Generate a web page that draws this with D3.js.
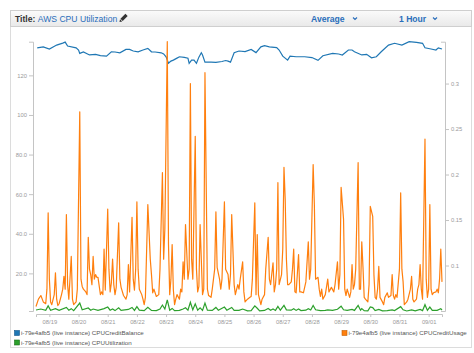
<!DOCTYPE html>
<html>
<head>
<meta charset="utf-8">
<script src="https://cdn.jsdelivr.net/npm/d3@7"></script>
<style>
  body { margin: 0; background: #fff; }
  text { font-family: "Liberation Sans", Arial, sans-serif; }
</style>
</head>
<body>
<svg id="chart" width="474" height="353"></svg>
<script>
// hours are counted from 08/18 12:00
const baseTime = new Date(2015, 7, 18, 12);

// CPUCreditBalance (left axis)
const balance = [[2,133.9],[7,134.4],[12,133.3],[18,135.3],[23,136.3],[25,136.8],[27,134.8],[34,133.9],[36,132.8],[37,131.1],
  [40,131.8],[45,130.3],[50,130.6],[54,130.0],[59,129.7],[63,131.9],[66,131.8],[70,131.4],[75,133.1],[78,133.1],
  [81,132.3],[85,131.9],[89,132.8],[93,133.6],[96,131.9],[99,131.8],[104,131.4],[106,130.8],[108,129.4],[110,126.1],
  [112,127.2],[114,127.7],[117,128.7],[119,129.4],[123,129.1],[126,128.7],[127,126.1],[129,127.7],[131,127.7],[133,126.1],
  [135,129.2],[137,131.4],[138,130.3],[140,126.7],[145,126.7],[149,126.6],[154,127.0],[157,127.5],[159,127.2],[161,126.7],
  [164,131.4],[168,132.3],[173,132.0],[178,133.1],[182,131.5],[186,134.4],[189,135.0],[193,134.4],[199,134.0],[201,132.8],
  [204,129.7],[208,127.7],[210,129.7],[215,129.4],[222,129.4],[228,129.0],[233,127.6],[237,129.9],[245,131.1],[250,130.8],
  [253,130.3],[258,132.8],[261,132.8],[263,131.9],[269,130.3],[273,130.6],[277,128.9],[281,129.4],[285,131.9],[291,135.3],
  [296,136.2],[302,135.3],[308,137.0],[314,136.7],[319,136.2],[321,133.9],[326,133.3],[330,132.8],[332,133.9],[335,133.3]];

// CPUCreditUsage (right axis)
const usage = [[1,0.055],[3,0.063],[5,0.067],[7,0.060],[9,0.058],[10,0.074],[11,0.158],[12,0.085],[13,0.060],[14,0.057],
  [16,0.068],[17,0.092],[18,0.063],[19,0.056],[20,0.058],[22,0.068],[23,0.074],[24,0.088],[25,0.074],[26,0.156],
  [27,0.079],[28,0.063],[30,0.110],[31,0.063],[32,0.057],[34,0.060],[35,0.074],[37,0.269],[38,0.085],[39,0.077],
  [40,0.074],[42,0.071],[43,0.068],[44,0.131],[45,0.096],[46,0.090],[47,0.079],[48,0.110],[49,0.085],[50,0.090],
  [51,0.087],[52,0.087],[54,0.068],[55,0.071],[56,0.068],[57,0.118],[58,0.073],[60,0.162],[61,0.096],[62,0.071],
  [63,0.081],[64,0.107],[65,0.079],[66,0.068],[67,0.076],[69,0.147],[70,0.085],[71,0.076],[73,0.067],[75,0.063],
  [76,0.068],[77,0.101],[78,0.071],[80,0.153],[81,0.085],[82,0.073],[83,0.096],[84,0.170],[85,0.096],[86,0.074],
  [88,0.068],[89,0.063],[90,0.057],[91,0.065],[93,0.167],[95,0.107],[96,0.090],[97,0.070],[98,0.074],[100,0.066],
  [102,0.068],[103,0.096],[105,0.202],[106,0.107],[107,0.140],[109,0.346],[110,0.123],[111,0.068],[112,0.085],[113,0.123],
  [114,0.073],[115,0.057],[116,0.063],[117,0.068],[119,0.063],[120,0.074],[121,0.071],[122,0.104],[123,0.085],[124,0.145],
  [126,0.085],[127,0.096],[128,0.300],[129,0.107],[130,0.085],[132,0.242],[133,0.096],[134,0.071],[135,0.077],[136,0.145],
  [138,0.068],[139,0.074],[140,0.312],[142,0.074],[143,0.067],[145,0.065],[146,0.074],[148,0.096],[149,0.159],[150,0.098],
  [152,0.085],[153,0.074],[154,0.085],[156,0.170],[157,0.096],[159,0.090],[160,0.074],[161,0.090],[162,0.156],[164,0.079],
  [165,0.068],[167,0.079],[168,0.074],[169,0.085],[171,0.104],[172,0.071],[173,0.060],[175,0.063],[177,0.065],[178,0.066],
  [179,0.085],[181,0.169],[182,0.068],[183,0.134],[184,0.068],[186,0.057],[187,0.063],[189,0.068],[190,0.096],[192,0.131],
  [193,0.085],[194,0.079],[196,0.103],[197,0.071],[198,0.079],[199,0.096],[200,0.191],[201,0.079],[203,0.090],[204,0.118],
  [205,0.208],[206,0.173],[207,0.107],[208,0.079],[209,0.079],[211,0.082],[212,0.096],[213,0.118],[214,0.071],[215,0.070],
  [217,0.112],[218,0.071],[219,0.071],[221,0.070],[223,0.082],[225,0.126],[226,0.085],[227,0.096],[229,0.211],[230,0.167],
  [231,0.085],[233,0.087],[234,0.074],[235,0.066],[236,0.074],[237,0.063],[239,0.068],[241,0.085],[242,0.071],[244,0.076],
  [246,0.071],[247,0.079],[249,0.104],[250,0.074],[251,0.090],[252,0.186],[254,0.151],[255,0.074],[256,0.067],[257,0.074],
  [259,0.065],[260,0.071],[261,0.101],[262,0.074],[263,0.079],[264,0.096],[266,0.213],[267,0.074],[268,0.074],[269,0.126],
  [270,0.098],[271,0.065],[272,0.063],[274,0.060],[275,0.079],[276,0.165],[278,0.154],[279,0.090],[280,0.065],[281,0.063],
  [282,0.074],[283,0.099],[284,0.065],[286,0.060],[287,0.057],[288,0.065],[290,0.070],[291,0.065],[293,0.067],[294,0.090],
  [295,0.067],[296,0.063],[297,0.068],[298,0.065],[300,0.096],[301,0.180],[302,0.096],[303,0.082],[304,0.057],[306,0.060],
  [307,0.063],[309,0.074],[310,0.088],[311,0.063],[312,0.060],[314,0.063],[315,0.074],[316,0.079],[317,0.101],[318,0.074],
  [319,0.063],[321,0.239],[322,0.085],[323,0.065],[324,0.074],[325,0.167],[326,0.074],[327,0.068],[328,0.070],[330,0.071],
  [331,0.074],[332,0.070],[333,0.085],[334,0.118],[335,0.082]];

// CPUUtilization (left axis)
const utilization = [[1,1.5],[5,2.0],[9,1.3],[11,3.6],[13,1.4],[17,2.2],[20,1.3],[26,2.8],[28,1.4],[30,2.2],
  [32,1.2],[37,5.0],[39,1.6],[44,2.5],[46,1.4],[48,2.0],[52,1.3],[57,2.2],[60,3.0],[62,1.4],
  [64,2.0],[66,1.2],[69,2.6],[71,1.3],[77,1.8],[80,2.8],[82,1.3],[84,3.2],[86,1.4],[90,1.2],
  [93,2.9],[96,1.3],[100,1.2],[103,2.0],[105,4.0],[107,2.0],[109,6.6],[111,1.4],[113,2.3],[115,1.2],
  [119,1.3],[122,2.0],[124,2.6],[126,1.4],[128,5.4],[130,1.6],[132,4.6],[134,1.4],[136,2.6],[138,1.3],
  [140,5.0],[142,1.4],[146,1.3],[149,2.8],[151,1.4],[156,3.0],[158,1.4],[162,2.8],[164,1.3],[168,1.3],
  [171,2.0],[175,1.1],[178,1.2],[181,3.6],[183,2.4],[185,1.1],[189,1.3],[192,2.3],[194,1.4],[196,2.0],
  [198,1.3],[200,3.3],[202,1.4],[205,3.8],[207,1.6],[211,1.4],[213,2.1],[215,1.3],[217,2.0],[219,1.2],
  [223,1.4],[225,2.2],[227,1.5],[229,3.8],[231,1.6],[235,1.2],[239,1.3],[241,1.6],[245,1.3],[249,1.9],
  [252,3.4],[254,1.6],[257,1.3],[261,1.8],[263,1.3],[266,3.8],[268,1.4],[269,2.2],[271,1.2],[274,1.1],
  [276,3.0],[278,2.7],[280,1.2],[283,1.8],[286,1.1],[290,1.2],[294,1.6],[296,1.2],[301,3.2],[303,1.6],
  [306,1.0],[310,1.6],[313,1.1],[317,1.8],[319,1.2],[321,4.2],[323,1.3],[325,3.0],[327,1.3],[331,1.3],
  [334,2.1],[335,1.5]];

const leftTicks = [20, 40, 60, 80, 100, 120];
const leftLabels = ["20.0", "40.0", "60.0", "80.0", "100", "120"];
const rightTicks = [0.1, 0.15, 0.2, 0.25, 0.3];
const rightLabels = ["0.1", "0.15", "0.2", "0.25", "0.3"];
const usageDomain = [0.05, 0.346];

const legendItems = [
  { name: "i-79e4afb5 (live instance) CPUCreditBalance", color: "#1f77b4", stroke: "#15588a" },
  { name: "i-79e4afb5 (live instance) CPUUtilization", color: "#2ca02c", stroke: "#1d6e1d" },
  { name: "i-79e4afb5 (live instance) CPUCreditUsage", color: "#ff7f0e", stroke: "#c25f05" }
];

const toDate = h => new Date(baseTime.getTime() + h * 3600e3);

const svg = d3.select("#chart");

// header bar
const defs = svg.append("defs");
const grad = defs.append("linearGradient").attr("id", "hdr").attr("x1", 0).attr("x2", 0).attr("y1", 0).attr("y2", 1);
grad.append("stop").attr("offset", "0%").attr("stop-color", "#fbfbfb");
grad.append("stop").attr("offset", "100%").attr("stop-color", "#e9e9e9");

svg.append("rect").attr("x", 10.5).attr("y", 26.5).attr("width", 461).attr("height", 321)
  .attr("fill", "#fff").attr("stroke", "#dcdcdc");
svg.append("rect").attr("x", 10.5).attr("y", 10.5).attr("width", 461).attr("height", 16)
  .attr("fill", "url(#hdr)").attr("stroke", "#cfcfcf");

const title = svg.append("text").attr("x", 15).attr("y", 21.5).attr("font-size", "8.6px");
title.append("tspan").attr("font-weight", "bold").attr("fill", "#333").text("Title: ");
title.append("tspan").attr("fill", "#2a6ebb").text("AWS CPU Utilization");

// pencil icon
svg.append("g").attr("transform", "translate(123,18.5) rotate(45)")
  .call(g => g.append("rect").attr("x", -1.6).attr("y", -5).attr("width", 3.2).attr("height", 7).attr("fill", "#333"))
  .call(g => g.append("path").attr("d", "M-1.6,2.6L1.6,2.6L0,5Z").attr("fill", "#333"));

const chevron = (x, y) => svg.append("path")
  .attr("d", `M${x},${y}l2,2l2,-2`).attr("fill", "none").attr("stroke", "#2a6ebb").attr("stroke-width", 1.1);
svg.append("text").attr("x", 311).attr("y", 21.5).attr("font-size", "8.6px").attr("font-weight", "bold")
  .attr("fill", "#2a6ebb").text("Average");
chevron(353, 17.5);
svg.append("text").attr("x", 399).attr("y", 21.5).attr("font-size", "8.6px").attr("font-weight", "bold")
  .attr("fill", "#2a6ebb").text("1 Hour");
chevron(433, 17.5);

// scales
const x = d3.scaleTime()
  .domain(d3.extent(usage, d => toDate(d[0])))
  .range([36, 442]);
const yLeft = d3.scaleLinear()
  .domain([d3.min(utilization, d => d[1]), d3.max(balance, d => d[1])])
  .range([311, 41.7]);
const yRight = d3.scaleLinear().domain(usageDomain).range([311, 41.7]);

const axisColor = "#c4c4c4", labelColor = "#9a9a9a";
const styleAxis = g => {
  g.select(".domain").attr("stroke", axisColor);
  g.selectAll(".tick line").attr("stroke", axisColor);
  g.selectAll(".tick text").attr("fill", labelColor).attr("font-size", "5.8px")
    .attr("font-family", "'Liberation Sans', Arial, sans-serif");
};

svg.append("g").attr("transform", "translate(33,0)")
  .call(d3.axisLeft(yLeft).tickValues(leftTicks).tickFormat((d, i) => leftLabels[i]).tickSize(4).tickSizeOuter(4).tickPadding(2))
  .call(styleAxis);

svg.append("g").attr("transform", "translate(445,0)")
  .call(d3.axisRight(yRight).tickValues(rightTicks).tickFormat((d, i) => rightLabels[i]).tickSize(4).tickSizeOuter(-4).tickPadding(2))
  .call(styleAxis);

const days = d3.timeDay.range(d3.timeDay.ceil(x.domain()[0]), x.domain()[1]);
svg.append("g").attr("transform", "translate(0,314)")
  .call(d3.axisBottom(x).tickValues(days).tickFormat(d3.timeFormat("%m/%d")).tickSize(3).tickSizeOuter(3).tickPadding(3))
  .call(styleAxis);

// lines
const lineLeft = d3.line().x(d => x(toDate(d[0]))).y(d => yLeft(d[1]));
const lineRight = d3.line().x(d => x(toDate(d[0]))).y(d => yRight(d[1]));

svg.append("path").datum(balance).attr("d", lineLeft)
  .attr("fill", "none").attr("stroke", legendItems[0].color).attr("stroke-width", 1.2);
svg.append("path").datum(usage).attr("d", lineRight)
  .attr("fill", "none").attr("stroke", legendItems[2].color).attr("stroke-width", 1.2).attr("stroke-linejoin", "round");
svg.append("path").datum(utilization).attr("d", lineLeft)
  .attr("fill", "none").attr("stroke", legendItems[1].color).attr("stroke-width", 1.2);

// legend
const legendPos = [[14, 330], [14, 339.5], [341.5, 330]];
legendItems.forEach((item, i) => {
  const [lx, ly] = legendPos[i];
  svg.append("rect").attr("x", lx + 0.5).attr("y", ly + 0.5).attr("width", 5).attr("height", 5)
    .attr("fill", item.color).attr("stroke", item.stroke).attr("stroke-width", 0.6);
  svg.append("text").attr("x", lx + 7).attr("y", ly + 5.2).attr("font-size", "6.2px")
    .attr("fill", "#555").text(item.name);
});
</script>
</body>
</html>
